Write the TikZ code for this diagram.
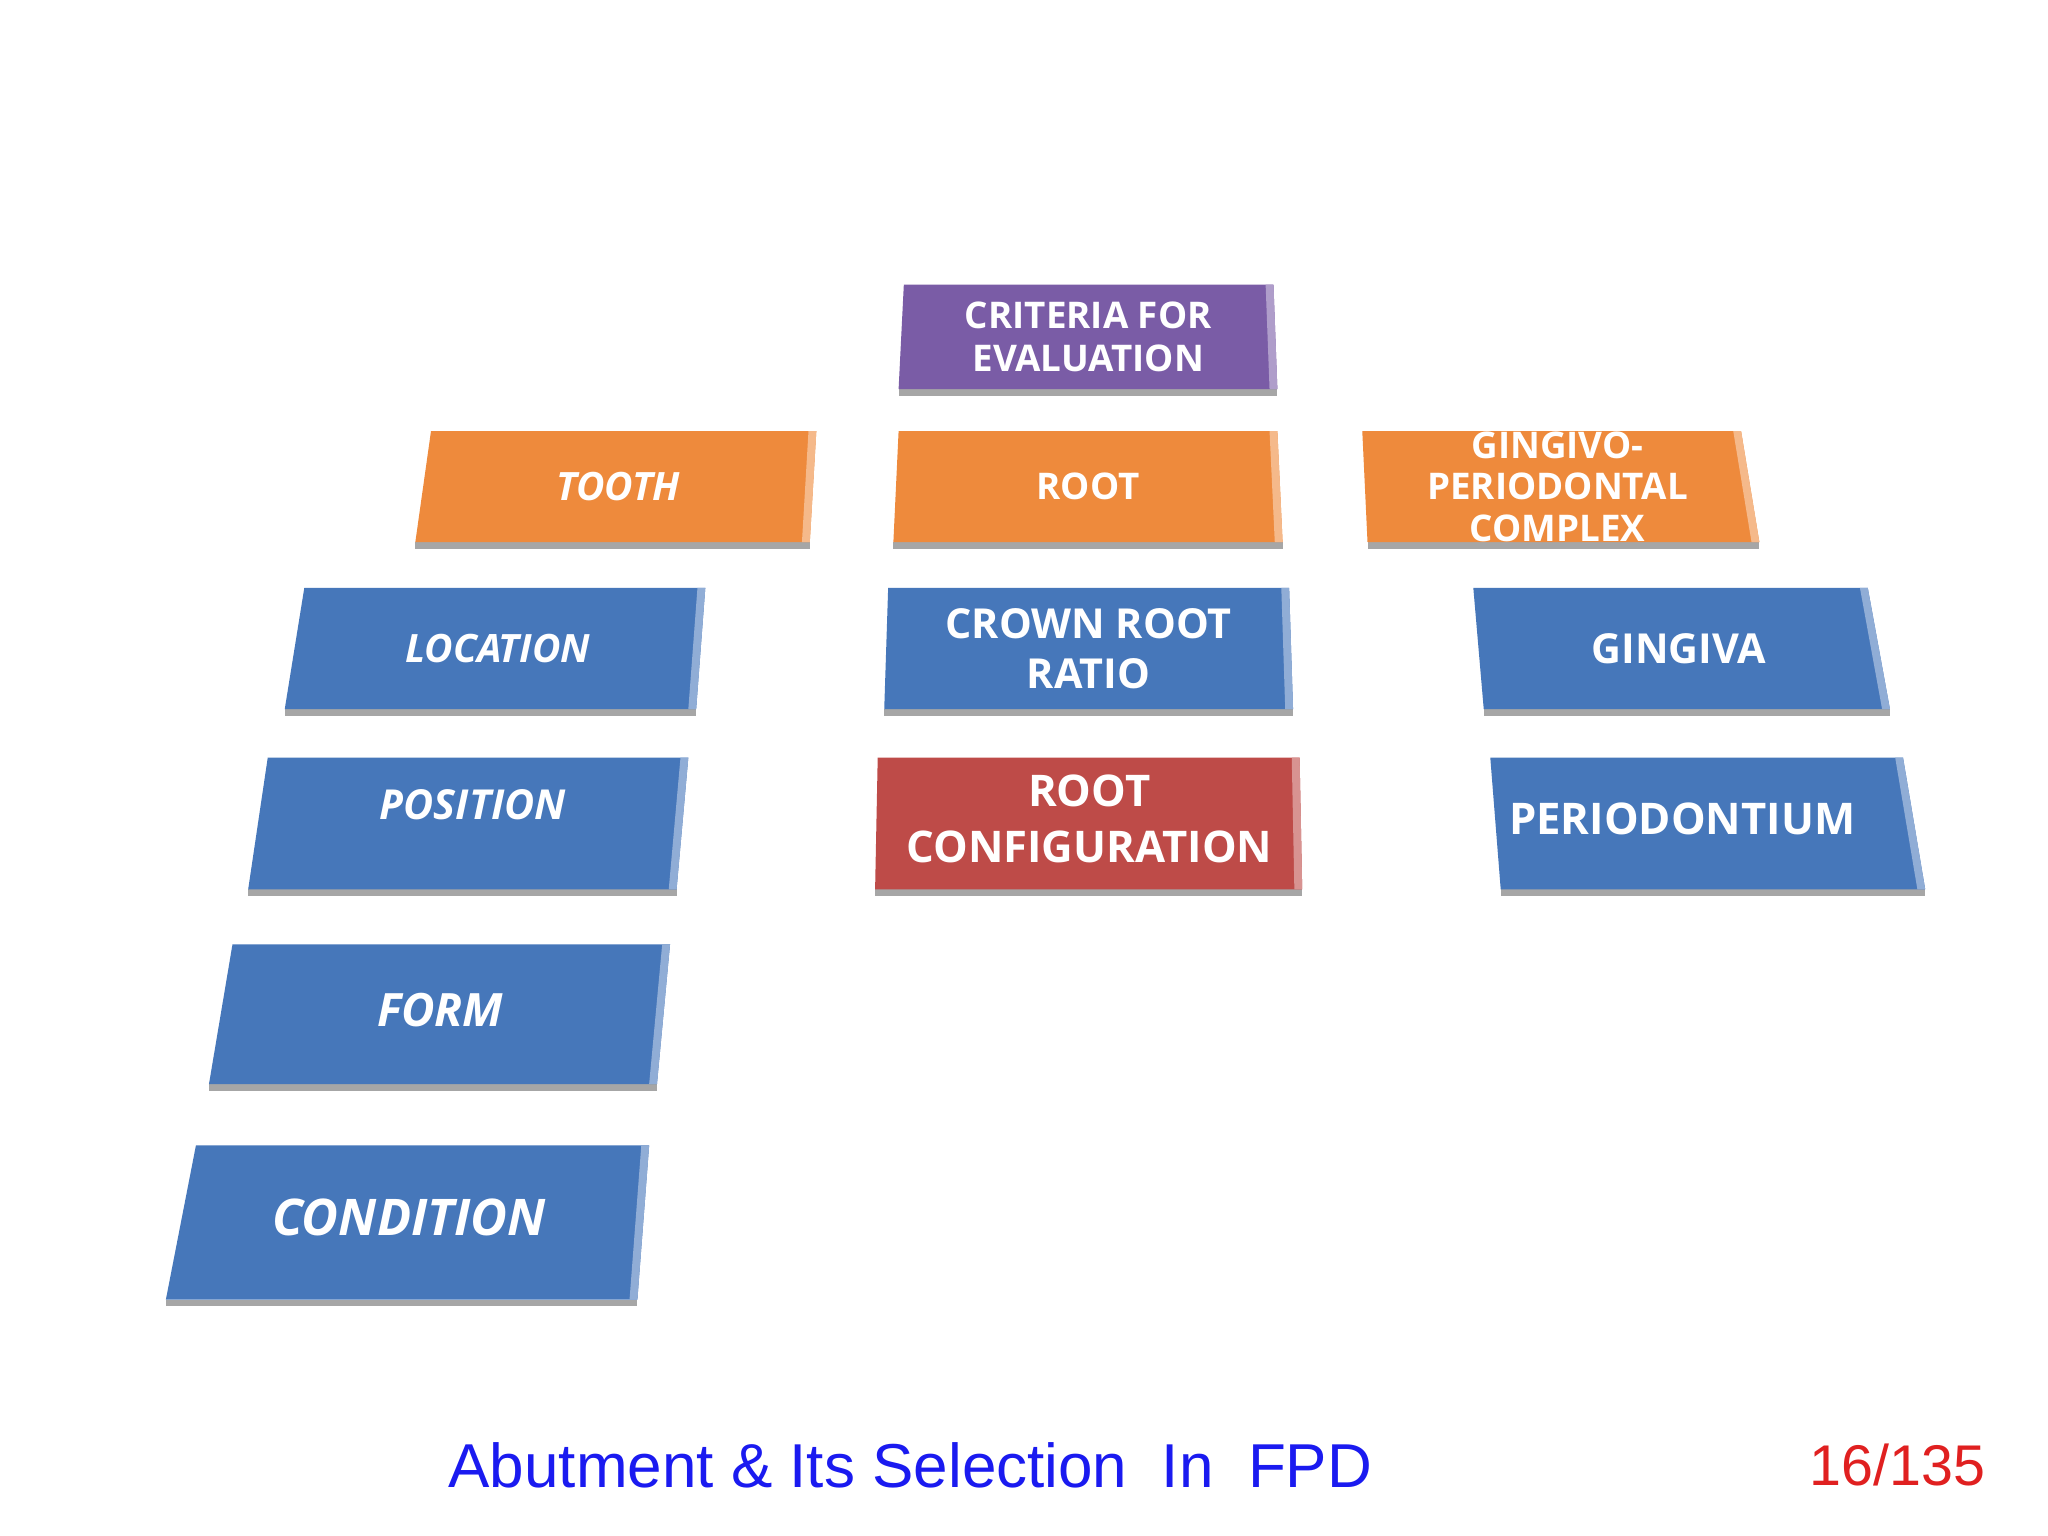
\documentclass[tikz,border=0pt]{standalone}
\usepackage{fontspec}
\setsansfont{Open Sans}
\setmainfont{Liberation Sans}
\definecolor{slabblue}{HTML}{4677BA}
\definecolor{slaborange}{HTML}{EE8A3C}
\definecolor{slabpurple}{HTML}{7A5CA6}
\definecolor{slabred}{HTML}{BE4B48}
\definecolor{footblue}{HTML}{1A1AF0}
\definecolor{footred}{HTML}{E02020}
% slab: name, top y, bottom y, top-left x, top-right x, bottom-left x, bottom-right x, colour
\newcommand{\slab}[8]{%
  \fill[black!35] (#6,#3) -- (#7,#3) -- (#7,#3+5) -- (#6,#3+5) -- cycle;
  \fill[#8] (#4,#2) -- (#5,#2) -- (#7,#3) -- (#6,#3) -- cycle;
  \fill[#8!60!white] (#5-6,#2) -- (#5,#2) -- (#7,#3) -- (#7-6,#3) -- cycle;
  \coordinate (#1) at ({(#4+#5+#6+#7)/4},{(#2+#3)/2});
}
\begin{document}
\begin{tikzpicture}[x=0.01cm,y=-0.01cm,
    slabtext/.style={text=white,font=\sffamily\bfseries\fontsize{8}{9.5}\selectfont,align=center},
    lefttext/.style={slabtext,font=\sffamily\bfseries\itshape\fontsize{8.5}{10}\selectfont}]
  \useasboundingbox[fill=white] (0,0) rectangle (1568,1176);
  \slab{crit}{218}{298}{692}{975}{688}{978}{slabpurple}
  \slab{tooth}{330}{415}{330}{625}{318}{620}{slaborange}
  \slab{root}{330}{415}{688}{978}{684}{982}{slaborange}
  \slab{ging}{330}{415}{1043}{1333}{1047}{1347}{slaborange}
  \slab{loc}{450}{543}{233}{540}{218}{533}{slabblue}
  \slab{crr}{450}{543}{680}{987}{677}{990}{slabblue}
  \slab{gva}{450}{543}{1128}{1430}{1136}{1447}{slabblue}
  \slab{pos}{580}{681}{205}{527}{190}{518}{slabblue}
  \slab{rcf}{580}{681}{672}{995}{670}{997}{slabred}
  \slab{per}{580}{681}{1141}{1457}{1149}{1474}{slabblue}
  \slab{frm}{723}{830}{178}{513}{160}{503}{slabblue}
  \slab{cnd}{877}{995}{150}{497}{127}{488}{slabblue}
  \node[slabtext] (critlbl) at (crit) {CRITERIA FOR\\EVALUATION};
  \node[lefttext] (toothlbl) at (tooth) {TOOTH};
  \node[slabtext] (rootlbl) at (root) {ROOT};
  \node[slabtext,font=\sffamily\bfseries\fontsize{8}{9}\selectfont] (ginglbl) at (ging) {GINGIVO-\\PERIODONTAL\\COMPLEX};
  \node[lefttext] (loclbl) at (loc) {LOCATION};
  \node[slabtext,font=\sffamily\bfseries\fontsize{9}{11}\selectfont] (crrlbl) at (crr) {CROWN ROOT\\RATIO};
  \node[slabtext,font=\sffamily\bfseries\fontsize{9}{11}\selectfont] (gvalbl) at (gva) {GINGIVA};
  \node[lefttext,anchor=north,font=\sffamily\bfseries\itshape\fontsize{9}{11}\selectfont] (poslbl) at (362,592) {POSITION};
  \node[slabtext,font=\sffamily\bfseries\fontsize{9.5}{12}\selectfont] (rcflbl) at (834,627) {ROOT\\CONFIGURATION};
  \node[slabtext,anchor=west,font=\sffamily\bfseries\fontsize{9.5}{11}\selectfont] (perlbl) at (1143,627) {PERIODONTIUM};
  \node[lefttext,font=\sffamily\bfseries\itshape\fontsize{10}{12}\selectfont] (frmlbl) at (337,773) {FORM};
  \node[lefttext,font=\sffamily\bfseries\itshape\fontsize{11}{13}\selectfont] (cndlbl) at (313,932) {CONDITION};
  \node[text=footblue,font=\fontsize{13.5}{16}\selectfont] (title) at (697,1122) {Abutment \& Its Selection\ \ In\ \ FPD};
  \node[text=footred,font=\fontsize{12.5}{15}\selectfont] (page) at (1453,1122) {16/135};
\end{tikzpicture}
\end{document}
